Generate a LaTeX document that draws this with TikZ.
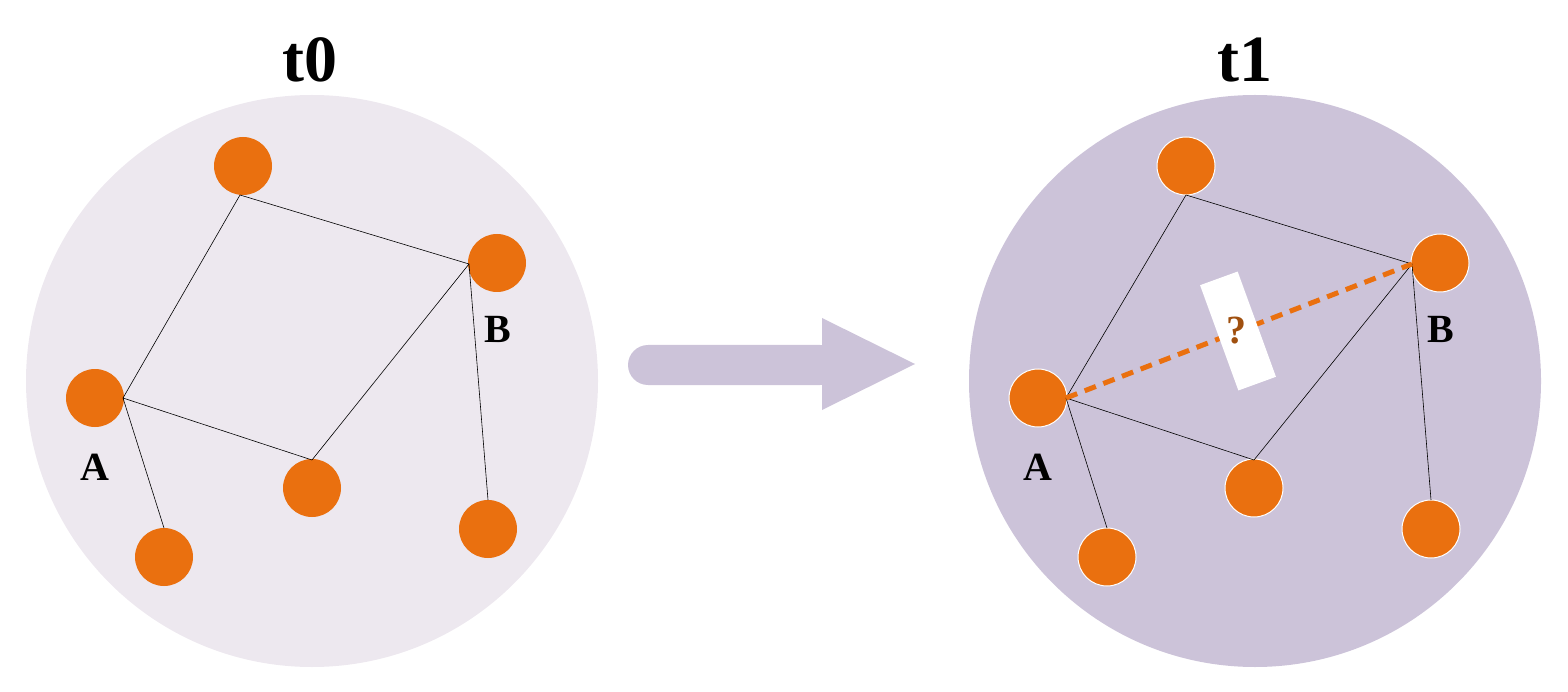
\documentclass[tikz,border=0pt]{standalone}
\usepackage{fontspec}
\setmainfont{Liberation Serif}
\definecolor{lav}{HTML}{EDE8EF}
\definecolor{lavd}{HTML}{CCC3D9}
\definecolor{org}{HTML}{EA700F}
\definecolor{brn}{HTML}{A0500F}
\begin{document}
\begin{tikzpicture}[x=1pt,y=-1pt,
  dot/.style={circle,fill=org,minimum size=58pt,inner sep=0pt},
  dotw/.style={dot,draw=white,line width=1pt},
  edge/.style={line width=0.6pt,black},
  lbl/.style={font=\bfseries\fontsize{40}{40}\selectfont},
  ttl/.style={font=\bfseries\fontsize{66}{66}\selectfont}]
\useasboundingbox (0,0) rectangle (1568,692);
\fill[lav] (312,381) circle (286);
\fill[lavd] (1255,381) circle (286);
\node[ttl] (t0) at (310,60) {t0};
\node[ttl] (t1) at (1245,60) {t1};
% arrow
\fill[lavd,rounded corners=20pt] (628,345) rectangle (840,385);
\fill[lavd] (822,318) -- (915,364) -- (822,410) -- cycle;
% left graph
\node[dot] (l1) at (243,166) {};
\node[dot] (l2) at (497,263) {};
\node[dot] (l3) at (95,398) {};
\node[dot] (l4) at (312,488) {};
\node[dot] (l5) at (164,557) {};
\node[dot] (l6) at (488,529) {};
\coordinate (p1) at (240,195); \coordinate (p2) at (469,264);
\coordinate (p3) at (123,398); \coordinate (p4) at (312,460);
\coordinate (p5) at (164,528); \coordinate (p6) at (488,500);
\draw[edge] (p1)--(p2) (p1)--(p3) (p3)--(p4) (p4)--(p2) (p3)--(p5) (p2)--(p6);
\node[lbl] (la) at (95,467) {A};
\node[lbl] (lb) at (498,329) {B};
% right graph
\node[dotw] (r1) at (1186,166) {};
\node[dotw] (r2) at (1440,263) {};
\node[dotw] (r3) at (1038,398) {};
\node[dotw] (r4) at (1254,488) {};
\node[dotw] (r5) at (1107,557) {};
\node[dotw] (r6) at (1431,529) {};
\coordinate (q1) at (1186,195); \coordinate (q2) at (1412,264);
\coordinate (q3) at (1066,398); \coordinate (q4) at (1254,460);
\coordinate (q5) at (1107,528); \coordinate (q6) at (1431,500);
\draw[edge] (q1)--(q2) (q1)--(q3) (q3)--(q4) (q4)--(q2) (q3)--(q5) (q2)--(q6);
\draw[org,line width=5pt,dash pattern=on 12pt off 8pt] (q3)--(q2);
\node[fill=white,minimum width=40pt,minimum height=112pt,rotate=20,inner sep=0pt] (qb) at (1238,331) {};
\node[lbl,text=brn] (qm) at (1236,331) {?};
\node[lbl] (ra) at (1038,467) {A};
\node[lbl] (rb) at (1441,329) {B};
\end{tikzpicture}
\end{document}
